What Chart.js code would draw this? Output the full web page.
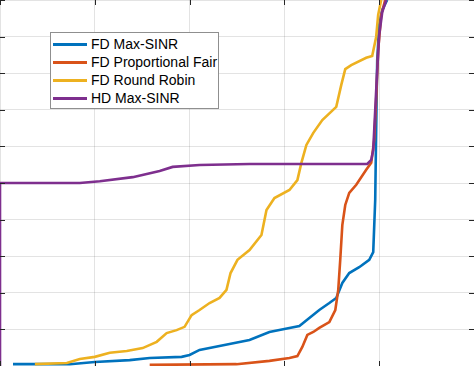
<!DOCTYPE html>
<html lang="en">
<head>
    <meta charset="UTF-8">
    <title>CDF comparison</title>
    <script src="https://cdn.jsdelivr.net/npm/chart.js@4/dist/chart.umd.min.js"></script>
    <style>
        body { margin: 0; background: #fff; }
        .wrap { position: relative; width: 474px; height: 366px; }
        #legend {
            position: absolute; left: 50px; top: 32px; width: 167px; height: 73px;
            border: 1px solid #8f8f8f; background: #fff;
            font-family: "Liberation Sans", Arial, sans-serif; font-size: 14px; color: #000;
            padding-top: 2px; box-sizing: content-box;
        }
        #legend .row { height: 18px; line-height: 18px; display: flex; align-items: center; white-space: nowrap; }
        #legend .swatch { width: 34px; height: 3px; margin-left: 2px; margin-right: 4px; }
    </style>
</head>
<body>
<div class="wrap">
    <canvas id="cdf" width="474" height="366"></canvas>
    <div id="legend"></div>
</div>
<script>
    // series names (legend order)
    const seriesNames = ['FD Max-SINR', 'FD Proportional Fair', 'FD Round Robin', 'HD Max-SINR'];
    const seriesColors = ['#0072BD', '#D95319', '#EDB120', '#7E2F8E'];

    // axis ranges (no tick labels visible in the picture)
    const xTicks = [0, 1, 2, 3, 4, 5];
    const yTicks = [0, 0.1, 0.2, 0.3, 0.4, 0.5, 0.6, 0.7, 0.8, 0.9, 1];

    // FD Max-SINR
    const fdMaxX = [0.137, 0.737, 1.0, 1.368, 1.579, 1.916, 2.0, 2.105, 2.421, 2.632, 2.842, 3.0, 3.158, 3.263, 3.368, 3.474, 3.547, 3.611, 3.684, 3.789, 3.895, 3.937, 3.958, 3.968, 3.979, 4.0, 4.032, 4.084];
    const fdMaxY = [0.005, 0.005, 0.011, 0.016, 0.022, 0.025, 0.030, 0.044, 0.060, 0.071, 0.093, 0.101, 0.109, 0.131, 0.153, 0.172, 0.186, 0.227, 0.254, 0.270, 0.290, 0.311, 0.454, 0.645, 0.836, 0.932, 0.973, 1.0];

    // FD Proportional Fair
    const fdPfX = [1.579, 2.495, 2.842, 3.053, 3.137, 3.189, 3.242, 3.305, 3.368, 3.474, 3.537, 3.568, 3.589, 3.611, 3.642, 3.684, 3.758, 3.863, 3.916, 3.947, 3.968, 3.989, 4.021, 4.063];
    const fdPfY = [0.003, 0.005, 0.014, 0.022, 0.027, 0.052, 0.085, 0.093, 0.104, 0.120, 0.153, 0.208, 0.290, 0.385, 0.440, 0.473, 0.495, 0.536, 0.555, 0.617, 0.727, 0.863, 0.959, 1.0];

    // FD Round Robin
    const fdRrX = [0.368, 0.705, 0.842, 1.0, 1.158, 1.337, 1.505, 1.653, 1.758, 1.863, 1.947, 2.021, 2.105, 2.211, 2.316, 2.389, 2.432, 2.505, 2.632, 2.758, 2.811, 2.895, 3.053, 3.137, 3.179, 3.232, 3.305, 3.4, 3.547, 3.6, 3.642, 3.705, 3.863, 3.926, 3.968, 3.989, 4.021];
    const fdRrY = [0.005, 0.008, 0.019, 0.025, 0.036, 0.041, 0.049, 0.066, 0.090, 0.098, 0.107, 0.139, 0.153, 0.172, 0.186, 0.208, 0.254, 0.290, 0.317, 0.358, 0.426, 0.459, 0.481, 0.508, 0.555, 0.604, 0.637, 0.672, 0.708, 0.768, 0.811, 0.822, 0.842, 0.847, 0.899, 0.959, 1.0];

    // HD Max-SINR
    const hdMaxX = [0, 0, 0.842, 1.053, 1.4, 1.684, 1.821, 2.105, 2.632, 3.874, 3.916, 3.937, 3.958, 3.979, 4.0, 4.032, 4.074];
    const hdMaxY = [0, 0.5, 0.5, 0.505, 0.516, 0.533, 0.544, 0.549, 0.552, 0.552, 0.563, 0.590, 0.699, 0.809, 0.904, 0.967, 1.0];

    function pts(xs, ys) {
        return xs.map((x, i) => ({ x: x, y: ys[i] }));
    }

    const seriesData = [pts(fdMaxX, fdMaxY), pts(fdPfX, fdPfY), pts(fdRrX, fdRrY), pts(hdMaxX, hdMaxY)];

    // MATLAB draws later series on top; Chart.js draws low "order" last
    const datasets = seriesNames.map((name, i) => ({
        label: name,
        data: seriesData[i],
        borderColor: seriesColors[i],
        backgroundColor: seriesColors[i],
        borderWidth: 2.6,
        pointRadius: 0,
        tension: 0,
        fill: false,
        order: seriesNames.length - 1 - i
    }));

    // small inward tick marks on all four sides, like a boxed MATLAB axes
    const boxTicks = {
        id: 'boxTicks',
        afterDraw(chart) {
            const c = chart.ctx, a = chart.chartArea;
            const xs = chart.scales.x, ys = chart.scales.y;
            c.save();
            c.strokeStyle = '#262626';
            c.lineWidth = 1;
            c.beginPath();
            xTicks.forEach(v => {
                const p = Math.round(xs.getPixelForValue(v)) + 0.5;
                c.moveTo(p, a.top); c.lineTo(p, a.top + 5);
                c.moveTo(p, a.bottom); c.lineTo(p, a.bottom - 5);
            });
            yTicks.forEach(v => {
                const p = Math.round(ys.getPixelForValue(v)) + 0.5;
                c.moveTo(a.left, p); c.lineTo(a.left + 5, p);
                c.moveTo(a.right, p); c.lineTo(a.right - 5, p);
            });
            c.stroke();
            c.restore();
        }
    };

    new Chart(document.getElementById('cdf'), {
        type: 'line',
        data: { datasets: datasets },
        options: {
            responsive: false,
            animation: false,
            layout: { padding: 0 },
            plugins: { legend: { display: false }, tooltip: { enabled: false } },
            scales: {
                x: {
                    type: 'linear', min: 0, max: 5,
                    afterBuildTicks: s => { s.ticks = xTicks.map(v => ({ value: v })); },
                    ticks: { display: false },
                    grid: { color: 'rgba(38,38,38,0.13)', drawTicks: false, lineWidth: 1 },
                    border: { display: false }
                },
                y: {
                    type: 'linear', min: 0, max: 1,
                    afterBuildTicks: s => { s.ticks = yTicks.map(v => ({ value: v })); },
                    ticks: { display: false },
                    grid: { color: 'rgba(38,38,38,0.13)', drawTicks: false, lineWidth: 1 },
                    border: { display: false }
                }
            }
        },
        plugins: [boxTicks]
    });

    // legend box inside the axes, built from the series names
    const legend = document.getElementById('legend');
    seriesNames.forEach((name, i) => {
        const row = document.createElement('div');
        row.className = 'row';
        const sw = document.createElement('span');
        sw.className = 'swatch';
        sw.style.background = seriesColors[i];
        const tx = document.createElement('span');
        tx.textContent = name;
        row.appendChild(sw);
        row.appendChild(tx);
        legend.appendChild(row);
    });
</script>
</body>
</html>
